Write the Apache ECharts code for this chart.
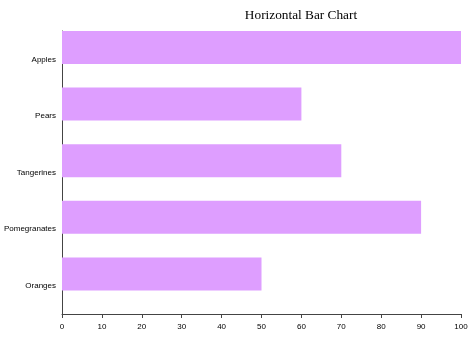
<!DOCTYPE html>
<html><head><meta charset="utf-8">
<script src="https://cdn.jsdelivr.net/npm/echarts@6/dist/echarts.min.js"></script>
<style>html,body{margin:0;padding:0;background:#fff}#c{width:474px;height:338px}</style>
</head><body><div id="c"></div>
<script>
const categories = ['Apples', 'Pears', 'Tangerines', 'Pomegranates', 'Oranges'];
const values = [100, 60, 70, 90, 50];
const xTicks = [0, 10, 20, 30, 40, 50, 60, 70, 80, 90, 100];

const chart = echarts.init(document.getElementById('c'), null, {renderer: 'canvas'});
chart.setOption({
  animation: false,
  backgroundColor: '#fff',
  title: {
    text: 'Horizontal Bar Chart',
    left: 296, top: 4, textAlign: 'center',
    textStyle: {fontFamily: 'Liberation Serif', fontWeight: 'normal', fontSize: 13.3, color: '#000'}
  },
  grid: {left: 62, right: 13, top: 31, bottom: 24, containLabel: false, outerBoundsMode: 'none'},
  xAxis: {
    type: 'value', min: xTicks[0], max: xTicks[xTicks.length - 1], interval: 10,
    splitLine: {show: false},
    axisLine: {show: true, lineStyle: {color: '#444', width: 1}},
    axisTick: {show: true, length: 4, lineStyle: {color: '#444'}},
    axisLabel: {color: '#000', fontSize: 8, fontFamily: 'Liberation Sans', margin: 9}
  },
  yAxis: {
    type: 'category', data: categories, inverse: true,
    axisLine: {show: true, lineStyle: {color: '#444', width: 1}},
    axisTick: {show: false},
    axisLabel: {color: '#000', fontSize: 8, fontFamily: 'Liberation Sans', margin: 6}
  },
  series: [
    {type: 'bar', data: values, barWidth: 33, barGap: 0,
     itemStyle: {color: '#de9eff'}},
    {type: 'bar', data: categories.map(() => '-'), barWidth: 23.6, barGap: 0}
  ]
});
</script></body></html>
